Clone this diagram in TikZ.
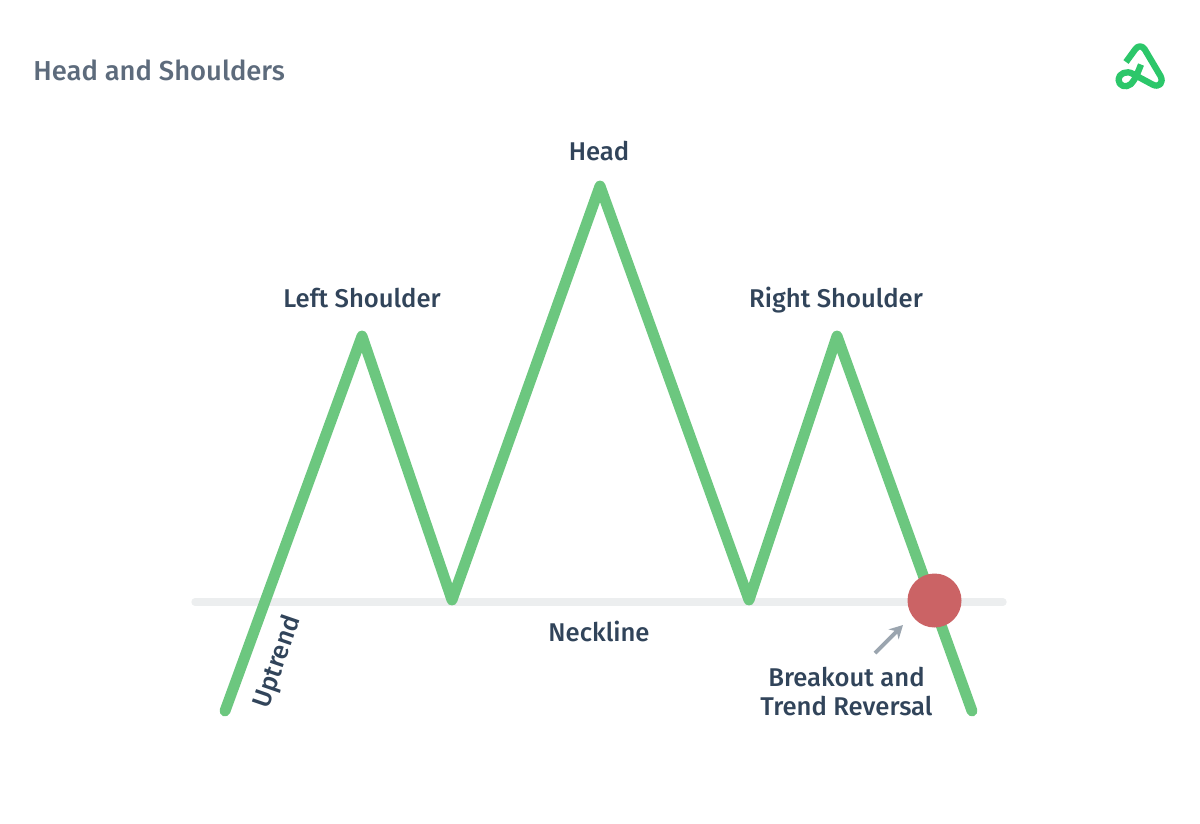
\documentclass[tikz,border=0pt]{standalone}
\usepackage{fontspec}
\setmainfont{Fira Sans Medium}
\usetikzlibrary{arrows.meta}
\definecolor{trendgreen}{HTML}{6CC77F}
\definecolor{logogreen}{HTML}{2CC76A}
\definecolor{necklinegray}{HTML}{ECEEEF}
\definecolor{breakred}{HTML}{CB6365}
\definecolor{arrowgray}{HTML}{9BA5AF}
\definecolor{labelblue}{HTML}{31445A}
\definecolor{titlegray}{HTML}{5D6B7C}
\tikzset{%
    trend/.style={line width = 6.2pt, color=trendgreen, line cap=round, line join=round},
    neck/.style={line width = 4.2pt, color=necklinegray, line cap=round},
    logo/.style={line width = 3.6pt, color=logogreen, line cap=butt, line join=round},
    lab/.style={text=labelblue, font=\fontsize{14.6}{16.6}\selectfont, inner sep=0pt, align=center, anchor=base},
    pointer/.style={line width = 2.2pt, color=arrowgray, -{Stealth[length=7.5pt,width=8pt]}},
}
\begin{document}
\begin{tikzpicture}[x=0.02cm,y=-0.02cm]
    \useasboundingbox (0,0) rectangle (1200,823);
    \coordinate (start) at (225,711);
    \coordinate (lshoulder) at (362,336);
    \coordinate (ltrough) at (452,600);
    \coordinate (headtop) at (600,186);
    \coordinate (rtrough) at (749,600);
    \coordinate (rshoulder) at (837,336);
    \coordinate (finish) at (972,711);
    \coordinate (neckl) at (195,602);
    \coordinate (neckr) at (1003,602);
    \draw [neck](neckl)--(neckr);
    \draw [trend](start)--(lshoulder)--(ltrough)--(headtop)--(rtrough)--(rshoulder)--(finish);
    \node [circle,fill=breakred,minimum size=1.08cm,inner sep=0pt] (breakout) at (934.5,600.5){};
    \node [text=titlegray,font=\fontsize{15.6}{17}\selectfont,inner sep=0pt,anchor=base west] (title) at (33,80){Head and Shoulders};
    \node [lab] (headlab) at (599,160){Head};
    \node [lab] (leftlab) at (362,307){Left Shoulder};
    \node [lab] (rightlab) at (836,307){Right Shoulder};
    \node [lab] (necklab) at (599,641){Neckline};
    \node [lab,anchor=center,rotate=71] (uptrendlab) at (278,662){Uptrend};
    \node [lab] (breaklab) at (846.5,686){Breakout and};
    \node [lab] (breaklabb) at (846.5,715){Trend Reversal};
    \coordinate (arrowtail) at (875,653);
    \coordinate (arrowhead) at (903,625);
    \draw [pointer](arrowtail)--(arrowhead);
    % logo
    \draw [logo](1126,62)--(1135.5,49)..controls (1138,45.5) and (1142,45.5) .. (1144.5,49)
        --(1160.5,76)..controls (1164,83) and (1159,88) .. (1152.5,84.5)--(1133,74)
        ..controls (1127,70) and (1118.5,73.5) .. (1118.5,79.5)
        ..controls (1118.5,86) and (1126,88.5) .. (1131,84)
        ..controls (1135,80) and (1138,72) .. (1141,64.5);
\end{tikzpicture}
\end{document}
